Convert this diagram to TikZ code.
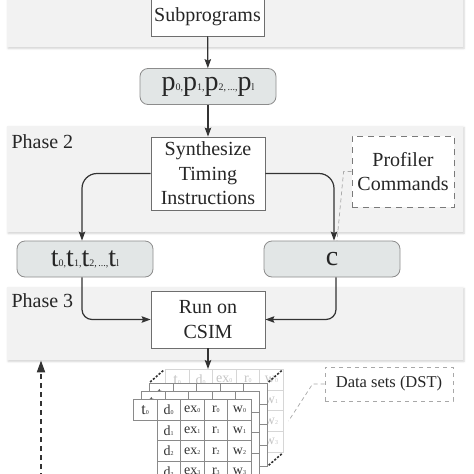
\documentclass[tikz,border=0pt]{standalone}
\usepackage{fontspec}
\setmainfont{Liberation Serif}
\usetikzlibrary{arrows.meta,positioning,shadows.blur}
\definecolor{phband}{HTML}{F2F2F2}
\definecolor{boxln}{HTML}{6E6E6E}
\definecolor{rndfill}{HTML}{E2E6E6}
\definecolor{rndln}{HTML}{8C8C8C}
\definecolor{arln}{HTML}{333333}
\definecolor{dashln}{HTML}{7A7A7A}
\definecolor{faintln}{HTML}{A8A8A8}
\definecolor{fadeln}{HTML}{D6D6D6}
\definecolor{fadetx}{HTML}{C4C4C4}
\definecolor{cellln}{HTML}{8A8A8A}
\newcommand{\lo}[1]{{\fontsize{10}{10}\selectfont #1}}
\newcommand{\lc}[1]{{\fontsize{6}{6}\selectfont #1}}
\tikzset{
  band/.style    = {fill=phband, draw=none, inner sep=0pt,
                    blur shadow={shadow xshift=0.8pt, shadow yshift=-1.2pt,
                                 shadow blur radius=2pt, shadow opacity=18}},
  phlbl/.style   = {font=\fontsize{20}{24}\selectfont, text=black!85},
  box/.style     = {draw=boxln, fill=white, line width=0.8pt, align=center,
                    inner sep=2pt, font=\fontsize{20}{24.5}\selectfont, text=black!85},
  rnd/.style     = {draw=rndln, fill=rndfill, line width=0.8pt, rounded corners=8pt,
                    minimum width=136pt, minimum height=36pt, inner sep=0pt,
                    font=\fontsize{28}{30}\selectfont, text=black!85},
  dbox/.style    = {draw=dashln, dash pattern=on 6pt off 5pt, line width=0.8pt,
                    fill=white, align=center, inner sep=2pt,
                    font=\fontsize{20}{24.5}\selectfont, text=black!85},
  cell/.style    = {draw=cellln, fill=white, line width=0.5pt, minimum width=23.6pt,
                    minimum height=20.7pt, inner sep=0pt, anchor=north west,
                    font=\fontsize{14}{14}\selectfont, text=black!80},
  fcell/.style   = {cell, draw=fadeln, text=fadetx},
  ar/.style      = {-{Stealth[length=9pt,width=6.5pt,inset=1.5pt]}, line width=1.2pt,
                    draw=arln},
  faint/.style   = {draw=faintln, line width=0.7pt, dash pattern=on 4pt off 3pt},
  cont/.style    = {draw=black!80, line width=1.6pt, dash pattern=on 2.2pt off 1.6pt,
                    shorten <=1.5pt, shorten >=1.5pt},
  loopar/.style  = {-{Triangle[length=12pt,width=8pt]}, draw=black!80, line width=2pt,
                    dash pattern=on 5pt off 4pt},
}
% cell text: #1 = 2 all, 1 top row + last column only, 0 none
\newcommand{\cellt}[4]{\ifnum#1=2 #4\lc{#2}\else\ifnum#1=1 \ifnum#2=0 #4\lc{#2}\else
  \ifnum#3=4 #4\lc{#2}\fi\fi\fi\fi}
% one layer of the data set: #1 name, #2 x, #3 y (top-left), #4 cell style, #5 text mode
\newcommand{\dstlayer}[5]{%
  \node[#4] (#1-t) at (#2,#3) {\fontsize{16}{16}\selectfont t\lc{0}};
  \foreach \row in {0,...,3}{
    \foreach \col/\s in {1/d,2/ex,3/r,4/w}{
      \node[#4] (#1-\row-\col) at ({#2+\col*23.6},{#3+\row*20.7})
        {\cellt{#5}{\row}{\col}{\s}};
    }
  }
}

\begin{document}
\begin{tikzpicture}[x=1pt,y=-1pt]
\useasboundingbox (0,0) rectangle (474,474);

% -- phase bands -------------------------------------------------------------
\node[band, minimum width=456pt, minimum height=57pt, anchor=north west] (ph1) at (7,-10) {};
\node[band, minimum width=456pt, minimum height=106pt, anchor=north west] (ph2) at (7,126) {};
\node[band, minimum width=456pt, minimum height=73pt, anchor=north west] (ph3) at (7,287) {};
\node[phlbl, anchor=west] (ph2lbl) at (8,142) {Phase 2};
\node[phlbl, anchor=west] (ph3lbl) at (8,301) {Phase 3};

% -- boxes -------------------------------------------------------------------
\node[box, minimum width=113pt, minimum height=38pt] (subp) at (207.5,17) {Subprograms};
\node[rnd] (pset) at (208,86.5) {p\lo{0,}p\lo{1,}p\lo{2,\,...,}p\lo{l}};
\node[box, minimum width=114pt, minimum height=73pt] (synth) at (208,173.5)
  {Synthesize\\Timing\\Instructions};
\node[dbox, minimum width=102pt, minimum height=71pt] (prof) at (403,171.5)
  {Profiler\\Commands};
\node[rnd] (tset) at (85,259) {t\lo{0,}t\lo{1,}t\lo{2,\,...,}t\lo{l}};
\node[rnd] (cset) at (332,259) {c};
\node[box, minimum width=114pt, minimum height=57pt] (run) at (208,319.5) {Run on\\CSIM};
\node[dbox, dash pattern=on 4pt off 4pt, draw=faintln, minimum width=128pt,
      minimum height=34pt, font=\fontsize{16.5}{20}\selectfont] (dst) at (389,384)
  {Data sets (DST)};

% -- data set stack ----------------------------------------------------------
\dstlayer{far}{165}{369}{fcell}{1}
\dstlayer{lay3}{149}{383}{cell}{0}
\draw[cont] (lay3-t.north west) -- (far-t.north west);
\draw[cont] (lay3-0-4.north east) -- (far-0-4.north east);
\draw[cont] (lay3-3-4.south east) -- (far-3-4.south east);
\dstlayer{lay2}{141}{391}{cell}{0}
\dstlayer{front}{133}{399}{cell}{2}

% -- connectors --------------------------------------------------------------
\draw[ar] (subp) -- (pset);
\draw[ar] (pset) -- (synth);
\draw[ar, rounded corners=15pt] (synth.west) -| ([xshift=-3pt]tset.north);
\draw[ar, rounded corners=15pt] (synth.east) -| ([xshift=2pt]cset.north);
\draw[ar, rounded corners=10pt] ([xshift=-3pt]tset.south) |- (run.west);
\draw[ar, rounded corners=10pt] ([xshift=4pt]cset.south) |- (run.east);
\draw[ar] (run.south) -- (run.south |- far-t.north);
\draw[faint] (prof.west) -- ++(-8,0) -- ([xshift=5pt]cset.north);
\draw[faint] (dst.west) -- ++(-12,0) -- ([xshift=5pt]far-2-4.east);

% -- feedback ----------------------------------------------------------------
\coordinate (fb) at (41,478);
\draw[loopar] (fb) -- (fb |- ph3.south);

\end{tikzpicture}
\end{document}
